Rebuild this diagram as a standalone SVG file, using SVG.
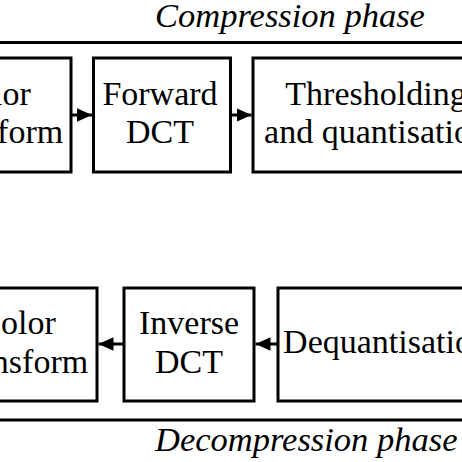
<svg xmlns="http://www.w3.org/2000/svg" width="462" height="462" viewBox="0 0 462 462">
<style>
.box{fill:#fff;stroke:#000;stroke-width:3}
.t{font-family:"Liberation Serif",serif;font-size:34px;fill:#000;text-anchor:middle}
.ph{font-family:"Liberation Serif",serif;font-size:34.5px;font-style:italic;fill:#000}
.rule{stroke:#000;stroke-width:3}
.conn{stroke:#000;stroke-width:3;fill:none}
</style>
<defs>
<marker id="ah" viewBox="0 0 10 10" refX="10" refY="5" markerWidth="5" markerHeight="4.5" markerUnits="strokeWidth" orient="auto" preserveAspectRatio="none">
<path d="M0,0 L10,5 L0,10 z" fill="#000"/>
</marker>
</defs>
<rect width="462" height="462" fill="#fff"/>
<line class="rule" x1="0" y1="42.5" x2="462" y2="42.5"/>
<line class="rule" x1="0" y1="420" x2="462" y2="420"/>
<text class="ph" x="155" y="27">Compression phase</text>
<text class="ph" x="155" y="451">Decompression phase</text>
<g id="color-fwd">
<rect class="box" x="-85" y="58" width="156" height="114"/>
<text class="t" x="-8" y="105">Color</text>
<text class="t" x="-8" y="143">Transform</text>
</g>
<g id="forward-dct">
<rect class="box" x="93.5" y="58" width="137" height="114"/>
<text class="t" x="160" y="105">Forward</text>
<text class="t" x="160" y="143">DCT</text>
</g>
<g id="threshold">
<rect class="box" x="253" y="58" width="244" height="114"/>
<text class="t" x="376" y="105">Thresholding</text>
<text class="t" x="376" y="143">and quantisation</text>
</g>
<g id="color-inv">
<rect class="box" x="-61" y="288" width="158" height="113"/>
<text class="t" x="17" y="334">Color</text>
<text class="t" x="17" y="373">Transform</text>
</g>
<g id="inverse-dct">
<rect class="box" x="124" y="288" width="130" height="113"/>
<text class="t" x="189" y="334">Inverse</text>
<text class="t" x="189" y="373">DCT</text>
</g>
<g id="dequant">
<rect class="box" x="278" y="288" width="214" height="113"/>
<text class="t" x="386" y="353">Dequantisation</text>
</g>
<g id="connectors">
<line class="conn" x1="72" y1="115" x2="92" y2="115" marker-end="url(#ah)"/>
<line class="conn" x1="231" y1="115" x2="251.5" y2="115" marker-end="url(#ah)"/>
<line class="conn" x1="123" y1="344" x2="98.5" y2="344" marker-end="url(#ah)"/>
<line class="conn" x1="277" y1="344" x2="255.5" y2="344" marker-end="url(#ah)"/>
</g>
</svg>
